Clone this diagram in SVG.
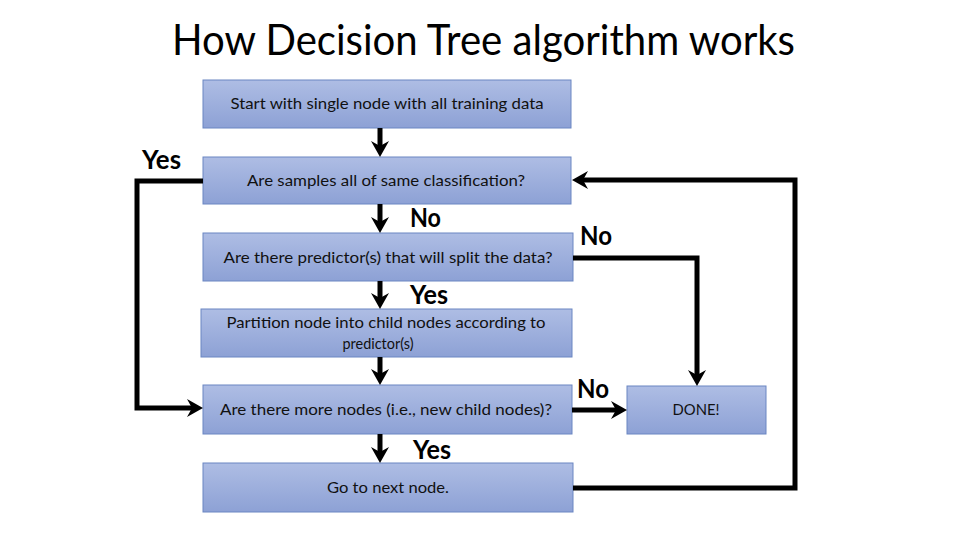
<svg xmlns="http://www.w3.org/2000/svg" width="960" height="540" viewBox="0 0 960 540">
<defs>
<linearGradient id="bf" x1="0" y1="0" x2="0" y2="1">
<stop offset="0" stop-color="#aebde4"/>
<stop offset="1" stop-color="#8da1d5"/>
</linearGradient>
<marker id="ah" viewBox="-2 -12 20 24" markerWidth="20" markerHeight="24" refX="6" refY="0" orient="auto" markerUnits="userSpaceOnUse">
<path d="M16,0 L0,-9 L5,0 L0,9 Z" fill="#000"/>
</marker>
<style>
.box{fill:url(#bf);stroke:#6a86c2;stroke-width:1}
.t{font-family:Lato,"Open Sans","Liberation Sans",sans-serif;font-size:15px;fill:#111;text-anchor:middle}
.lbl{font-family:Lato,"Open Sans","Liberation Sans",sans-serif;font-size:26px;font-weight:bold;fill:#000}
.title{font-family:Lato,"Open Sans","Liberation Sans",sans-serif;font-size:42px;fill:#000}
.c{fill:none;stroke:#000;stroke-width:5;marker-end:url(#ah)}
</style>
</defs>
<rect width="960" height="540" fill="#fff"/>
<text class="title" x="172" y="55" textLength="623" lengthAdjust="spacingAndGlyphs">How Decision Tree algorithm works</text>

<g id="n1"><rect class="box" x="203" y="80" width="368" height="48"/><text class="t" x="387" y="109" textLength="313" lengthAdjust="spacingAndGlyphs">Start with single node with all training data</text></g>
<g id="n2"><rect class="box" x="203" y="157" width="368" height="47"/><text class="t" x="386" y="186" textLength="278" lengthAdjust="spacingAndGlyphs">Are samples all of same classification?</text></g>
<g id="n3"><rect class="box" x="203" y="233" width="370" height="48"/><text class="t" x="388" y="263" textLength="329" lengthAdjust="spacingAndGlyphs">Are there predictor(s) that will split the data?</text></g>
<g id="n4"><rect class="box" x="201" y="309" width="371" height="48"/><text class="t" x="386" y="328" textLength="319" lengthAdjust="spacingAndGlyphs">Partition node into child nodes according to</text><text class="t" x="378" y="349" textLength="71" lengthAdjust="spacingAndGlyphs">predictor(s)</text></g>
<g id="n5"><rect class="box" x="203" y="385" width="369" height="49"/><text class="t" x="386" y="415" textLength="332" lengthAdjust="spacingAndGlyphs">Are there more nodes (i.e., new child nodes)?</text></g>
<g id="n6"><rect class="box" x="203" y="463" width="370" height="49"/><text class="t" x="388" y="493" textLength="122" lengthAdjust="spacingAndGlyphs">Go to next node.</text></g>
<g id="done"><rect class="box" x="627" y="386" width="139" height="48"/><text class="t" x="696" y="415" textLength="47" lengthAdjust="spacingAndGlyphs">DONE!</text></g>

<g id="connectors">
<path class="c" d="M380,128 L380,147"/>
<path class="c" d="M380,204 L380,223"/>
<path class="c" d="M380,281 L380,299"/>
<path class="c" d="M380,357 L380,375"/>
<path class="c" d="M380,434 L380,453"/>
<path class="c" d="M203,181 L137,181 L137,408 L193,408"/>
<path class="c" d="M573,258 L697,258 L697,376"/>
<path class="c" d="M572,410 L617,410"/>
<path class="c" d="M573,488 L795,488 L795,180 L582,180"/>
</g>
<g id="labels">
<text class="lbl" x="142" y="169" textLength="39" lengthAdjust="spacingAndGlyphs">Yes</text>
<text class="lbl" x="410" y="227" textLength="31" lengthAdjust="spacingAndGlyphs">No</text>
<text class="lbl" x="580" y="245" textLength="32" lengthAdjust="spacingAndGlyphs">No</text>
<text class="lbl" x="410" y="304" textLength="38" lengthAdjust="spacingAndGlyphs">Yes</text>
<text class="lbl" x="577" y="398" textLength="32" lengthAdjust="spacingAndGlyphs">No</text>
<text class="lbl" x="413" y="459" textLength="38" lengthAdjust="spacingAndGlyphs">Yes</text>
</g>
</svg>
